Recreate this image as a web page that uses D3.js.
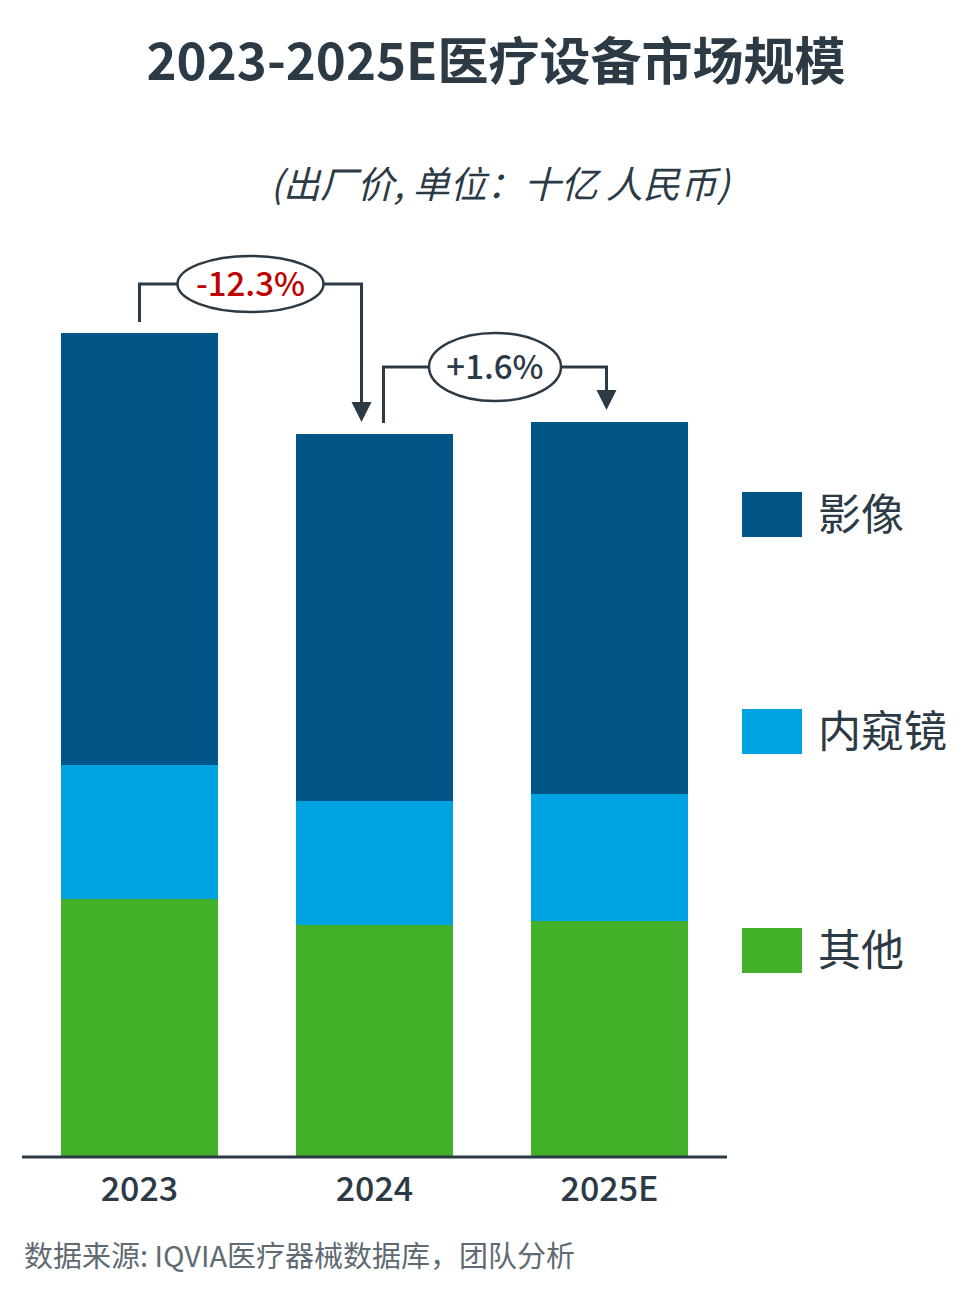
<!DOCTYPE html>
<html>
<head>
<meta charset="utf-8">
<script src="https://cdn.jsdelivr.net/npm/d3@7"></script>
<style>
  body { margin: 0; background: #fff; }
  svg text { font-family: "Noto Sans CJK SC", "Noto Sans", sans-serif; }
</style>
</head>
<body>
<div id="chart"></div>
<script>
// Data (units roughly 十亿 人民币)
const years = ["2023", "2024", "2025E"];
const seriesNames = ["其他", "内窥镜", "影像"]; // bottom to top
const otherValues = [25.7, 23.1, 23.5];
const endoValues = [13.4, 12.4, 12.7];
const imagingValues = [43.2, 36.7, 37.2];
const growthLabels = ["-12.3%", "+1.6%"];
const legendOrder = ["影像", "内窥镜", "其他"];

const width = 968, height = 1292;
const ink = "#2b3a45";

const color = d3.scaleOrdinal()
    .domain(["影像", "内窥镜", "其他"])
    .range(["#005587", "#00a3e1", "#43b02a"]);

// rows for the stack
const rows = years.map((y, i) => ({
    year: y,
    "其他": otherValues[i],
    "内窥镜": endoValues[i],
    "影像": imagingValues[i]
}));
const stacked = d3.stack().keys(seriesNames)(rows);
const totals = rows.map(r => seriesNames.reduce((s, k) => s + r[k], 0));

const x = d3.scaleBand()
    .domain(years)
    .range([22, 727])
    .paddingInner(0.332)
    .paddingOuter(0.166);

const y = d3.scaleLinear()
    .domain([0, 100])
    .range([1156, 156]);

const svg = d3.select("#chart").append("svg")
    .attr("width", width)
    .attr("height", height);

// Title and subtitle
svg.append("text")
    .attr("x", 496).attr("y", 80)
    .attr("text-anchor", "middle")
    .attr("font-size", 51).attr("font-weight", 700)
    .attr("fill", ink)
    .text("2023-2025E医疗设备市场规模");

svg.append("text")
    .attr("x", 500).attr("y", 198)
    .attr("text-anchor", "middle")
    .attr("font-size", 37).attr("font-style", "italic")
    .attr("fill", ink)
    .text("(出厂价, 单位：十亿 人民币)");

// Stacked bars
svg.append("g").selectAll("g")
    .data(stacked)
    .join("g")
    .attr("fill", d => color(d.key))
    .selectAll("rect")
    .data(d => d)
    .join("rect")
    .attr("x", d => x(d.data.year))
    .attr("width", x.bandwidth())
    .attr("y", d => y(d[1]))
    .attr("height", d => y(d[0]) - y(d[1]));

// Baseline axis
const xAxis = svg.append("g")
    .attr("transform", `translate(0,${y(0) + 1})`)
    .call(d3.axisBottom(x).tickSize(0).tickPadding(20));
xAxis.select(".domain").attr("stroke", ink).attr("stroke-width", 3)
    .attr("d", "M22,0H727");
xAxis.selectAll("text")
    .attr("font-size", 34)
    .attr("font-family", "'Noto Sans CJK SC', 'Noto Sans', sans-serif")
    .attr("fill", ink)
    .attr("font-weight", 500);

// Growth brackets
const annos = [
    { from: 0, to: 1, fromDx: 0, toDx: -13, dy: 49, rx: 73, ry: 28, fill: "#c00000" },
    { from: 1, to: 2, fromDx: 9, toDx: -3, dy: 55, rx: 66, ry: 34, fill: ink }
];
const aG = svg.append("g");
annos.forEach((a, i) => {
    const x1 = x(years[a.from]) + x.bandwidth() / 2 + a.fromDx;
    const x2 = x(years[a.to]) + x.bandwidth() / 2 + a.toDx;
    const top1 = y(totals[a.from]);
    const top2 = y(totals[a.to]);
    const by = Math.min(top1, top2) - a.dy;
    const tip = top2 - 12;
    aG.append("path")
        .attr("d", `M${x1},${top1 - 11}V${by}H${x2}V${tip - 18}`)
        .attr("fill", "none")
        .attr("stroke", ink)
        .attr("stroke-width", 3);
    aG.append("path")
        .attr("d", `M${x2 - 10},${tip - 20}L${x2 + 10},${tip - 20}L${x2},${tip}Z`)
        .attr("fill", ink);
    const cx = (x1 + x2) / 2;
    aG.append("ellipse")
        .attr("cx", cx).attr("cy", by)
        .attr("rx", a.rx).attr("ry", a.ry)
        .attr("fill", "#fff")
        .attr("stroke", ink)
        .attr("stroke-width", 2.5);
    aG.append("text")
        .attr("x", cx).attr("y", by)
        .attr("dy", "0.35em")
        .attr("text-anchor", "middle")
        .attr("font-size", 33)
        .attr("font-weight", 500)
        .attr("fill", a.fill)
        .text(growthLabels[i]);
});

// Legend
const legendY = [492, 709, 928];
const legend = svg.append("g").selectAll("g")
    .data(legendOrder)
    .join("g")
    .attr("transform", (d, i) => `translate(742,${legendY[i]})`);
legend.append("rect")
    .attr("width", 60).attr("height", 45)
    .attr("fill", d => color(d));
legend.append("text")
    .attr("x", 76).attr("y", 23)
    .attr("dy", "0.36em")
    .attr("font-size", 43)
    .attr("fill", ink)
    .text(d => d);

// Source note
svg.append("text")
    .attr("x", 24).attr("y", 1267)
    .attr("font-size", 29)
    .attr("fill", "#5f6b73")
    .text("数据来源: IQVIA医疗器械数据库，团队分析");
</script>
</body>
</html>
